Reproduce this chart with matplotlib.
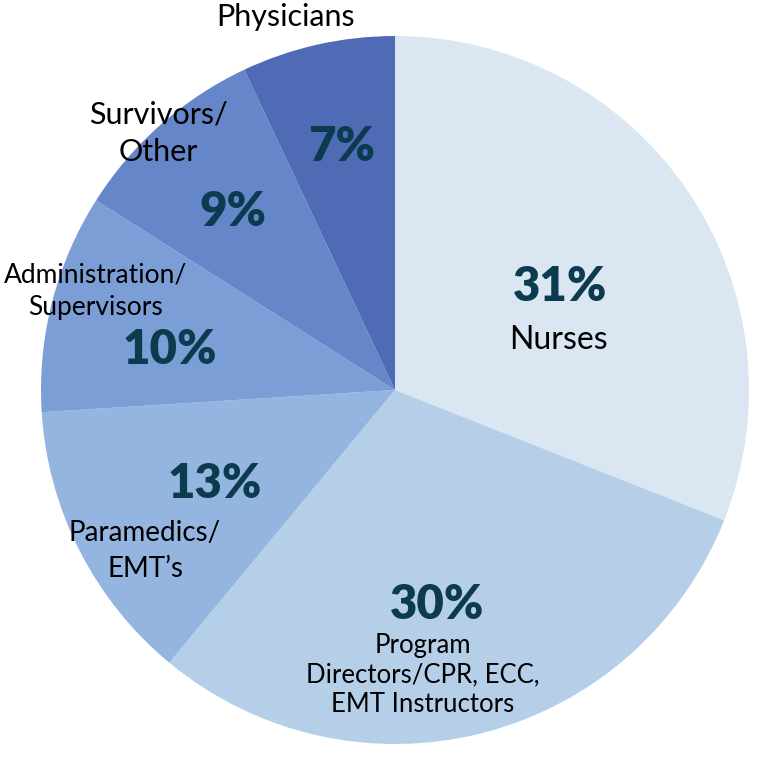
import matplotlib
matplotlib.use("Agg")
import matplotlib.pyplot as plt

# slices, clockwise from 12 o'clock
groups = ["Nurses", "Program\nDirectors/CPR, ECC,\nEMT Instructors", "Paramedics/\nEMT\u2019s",
          "Administration/\nSupervisors", "Survivors/\nOther", "Physicians"]
shares = [31, 30, 13, 10, 9, 7]
colors = ["#dae6f1", "#b6cfe8", "#94b5e0", "#7c9ed7", "#6586c8", "#4f6bb5"]

plt.rcParams['font.family'] = ['Lato', 'DejaVu Sans']

fig = plt.figure(figsize=(7.58, 7.61), dpi=100)
ax = fig.add_axes([0, 0, 1, 1])
H = 761

ax.pie(shares, colors=colors, startangle=90, counterclock=False,
       center=(395, H - 390), radius=354, wedgeprops=dict(linewidth=0))
ax.set_xlim(0, 758)
ax.set_ylim(0, H)
ax.set_aspect('auto')
ax.axis('off')

pct_color = "#0c3a4e"
# percent labels (pixel positions from top-left)
pct_pos = [(560, 287), (437, 605), (215, 484), (170, 350), (233, 212), (342, 147)]
for v, (x, y) in zip(shares, pct_pos):
    ax.text(x, H - y, f"{v}%", ha='center', va='center', fontsize=34,
            fontweight='heavy', color=pct_color)

# category labels
ax.text(558, H - 340, groups[0], ha='center', va='center', fontsize=23, color='black')
ax.text(423, H - 675, groups[1], ha='center', va='center', fontsize=18.5,
        color='black', linespacing=1.2)
ax.text(145, H - 551, groups[2], ha='center', va='center', fontsize=20,
        color='black', linespacing=1.5)
ax.text(96, H - 291, groups[3], ha='center', va='center', fontsize=19,
        color='black', linespacing=1.38)
ax.text(158, H - 133, groups[4], ha='center', va='center', fontsize=22,
        color='black', linespacing=1.4)
ax.text(286, H - 17, groups[5], ha='center', va='center', fontsize=22, color='black')

fig.savefig("out.png", dpi=100)
